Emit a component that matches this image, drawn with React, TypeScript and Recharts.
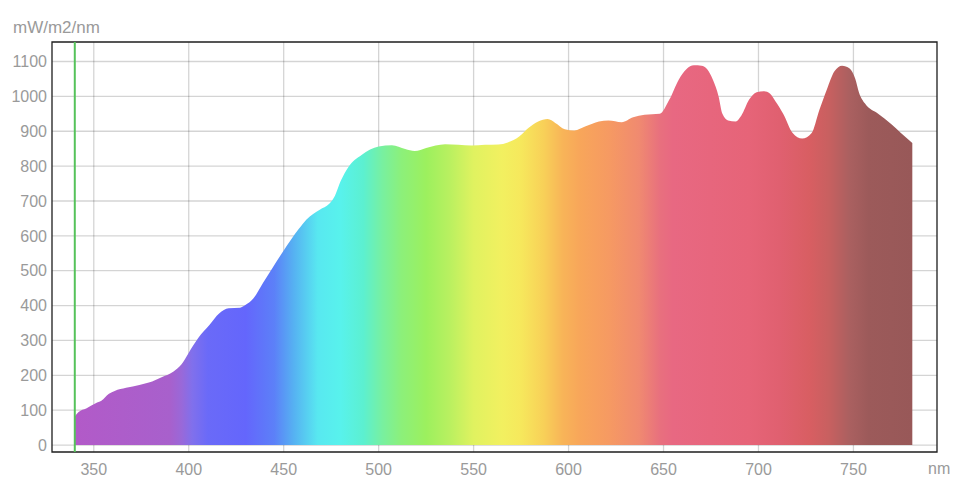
import React from 'react';
import {
  AreaChart,
  Area,
  XAxis,
  YAxis,
  CartesianGrid,
  ReferenceLine,
  ReferenceArea,
  Label,
} from 'recharts';

// Wavelength samples (nm)
const WAVELENGTHS = [
  340, 342, 346, 351, 354, 358, 361, 367, 374, 379, 386, 392, 396, 400, 405, 411,
  416, 421, 427, 430, 434, 439, 444, 450, 454, 458, 462, 469, 474, 477, 480, 484,
  491, 500, 507, 514, 519, 525, 535, 542, 549, 556, 563, 568, 574, 579, 584, 589,
  593, 598, 603, 609, 616, 621, 628, 634, 640, 648, 653, 658, 662, 666, 670, 673,
  676, 679, 681, 684, 688, 691, 695, 699, 703, 706, 709, 713, 718, 723, 728, 732,
  736, 740, 744, 748, 751, 753, 756, 763, 770, 775, 781,
];

// Spectral irradiance (mW/m2/nm)
const IRRADIANCE = [
  82, 95, 105, 120, 127, 147, 155, 164, 172, 179, 195, 211, 230, 265, 307, 345,
  377, 392, 394, 402, 420, 464, 507, 558, 590, 620, 647, 675, 692, 715, 757, 797,
  832, 856, 860, 849, 843, 852, 863, 861, 859, 861, 862, 868, 885, 910, 928, 935,
  924, 906, 902, 914, 928, 931, 926, 940, 947, 950, 990, 1048, 1078, 1089, 1088, 1078,
  1048, 1000, 950, 931, 928, 945, 990, 1012, 1015, 1008, 985, 950, 895, 879, 895, 960,
  1020, 1072, 1088, 1080, 1050, 1010, 980, 950, 920, 895, 866,
];

const X_TICKS = [350, 400, 450, 500, 550, 600, 650, 700, 750];
const Y_TICKS = [0, 100, 200, 300, 400, 500, 600, 700, 800, 900, 1000, 1100];
const X_DOMAIN: [number, number] = [328, 794];
const Y_DOMAIN: [number, number] = [-20, 1156];
const MARKER_NM = 340;

// Colour of the spectrum at each wavelength
const SPECTRUM_NM = [
  340, 390, 396, 402, 410, 430, 445, 455, 468, 480, 492, 502, 512, 525, 537, 550,
  565, 575, 587, 597, 606, 621, 637, 648, 655, 695, 711, 727, 737, 748, 758, 781,
];
const SPECTRUM_COLORS = [
  '#b25ac8', '#a860cc', '#9a68d8', '#8070ec', '#6a6af8', '#6466fc', '#5c80f8', '#56b0f2',
  '#58e8f0', '#58f2ec', '#5cf0d0', '#78f0a0', '#8cf07a', '#9cf05e', '#b8f060', '#e0f260',
  '#f2f060', '#f6e85c', '#f8d058', '#f8b458', '#f8a65a', '#f69a62', '#f08a70', '#e8707e',
  '#e86882', '#e66478', '#e06070', '#d85e62', '#c86060', '#aa6060', '#9c5a5a', '#985858',
];

const data = WAVELENGTHS.map((nm, i) => ({ nm, value: IRRADIANCE[i] }));

const FONT = '"Liberation Sans", Arial, Helvetica, sans-serif';
const TEXT_COLOR = '#9a9a9a';

const first = WAVELENGTHS[0];
const last = WAVELENGTHS[WAVELENGTHS.length - 1];

export default function App() {
  return (
    <div style={{ width: 964, height: 470, fontFamily: FONT }}>
      <AreaChart
        width={964}
        height={470}
        data={data}
        margin={{ top: 34, right: 35, bottom: 0, left: 0 }}
      >
        <defs>
          <linearGradient id="spectrum" x1="0" y1="0" x2="1" y2="0">
            {SPECTRUM_NM.map((nm, i) => (
              <stop
                key={nm}
                offset={(nm - first) / (last - first)}
                stopColor={SPECTRUM_COLORS[i]}
              />
            ))}
          </linearGradient>
        </defs>
        <XAxis
          dataKey="nm"
          type="number"
          domain={X_DOMAIN}
          ticks={X_TICKS}
          allowDataOverflow
          axisLine={false}
          tickLine={false}
          tickSize={0}
          tickMargin={12}
          height={26}
          tick={{ fill: TEXT_COLOR, fontSize: 16, fontFamily: FONT }}
        >
          <Label
            content={(props: any) => {
              const vb = props.viewBox || {};
              return (
                <text
                  x={vb.x + vb.width - 9}
                  y={vb.y + 22}
                  fill={TEXT_COLOR}
                  fontSize={16}
                  fontFamily={FONT}
                >
                  nm
                </text>
              );
            }}
          />
        </XAxis>
        <YAxis
          type="number"
          domain={Y_DOMAIN}
          ticks={Y_TICKS}
          allowDataOverflow
          axisLine={false}
          tickLine={false}
          tickSize={0}
          tickMargin={5}
          width={44}
          tick={{ fill: TEXT_COLOR, fontSize: 16, fontFamily: FONT }}
        >
          <Label
            content={(props: any) => {
              const vb = props.viewBox || {};
              return (
                <text
                  x={vb.x + 5}
                  y={vb.y - 9}
                  fill={TEXT_COLOR}
                  fontSize={17}
                  fontFamily={FONT}
                >
                  mW/m2/nm
                </text>
              );
            }}
          />
        </YAxis>
        <Area
          type="monotone"
          dataKey="value"
          stroke="none"
          fill="url(#spectrum)"
          fillOpacity={1}
          baseValue={0}
          isAnimationActive={false}
          dot={false}
          activeDot={false}
        />
        <CartesianGrid
          stroke="rgba(0,0,0,0.17)"
          strokeWidth={1.3}
          verticalValues={X_TICKS}
          horizontalValues={Y_TICKS}
        />
        <ReferenceLine
          x={MARKER_NM}
          stroke="#55c25a"
          strokeWidth={2}
          ifOverflow="visible"
        />
        <ReferenceArea
          x1={X_DOMAIN[0]}
          x2={X_DOMAIN[1]}
          y1={Y_DOMAIN[0]}
          y2={Y_DOMAIN[1]}
          fill="none"
          stroke="#1e1e1e"
          strokeWidth={1.3}
          ifOverflow="visible"
        />
      </AreaChart>
    </div>
  );
}
